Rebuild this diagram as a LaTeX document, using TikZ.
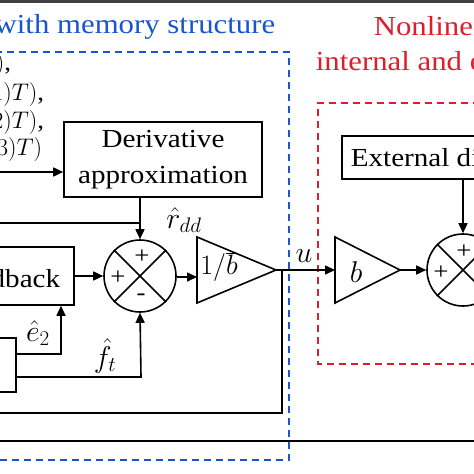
\RequirePackage{fix-cm}
\documentclass[tikz,border=0pt]{standalone}
\usepackage{fontspec}
\setmainfont{Liberation Serif}[FakeStretch=1.12]
\usetikzlibrary{arrows.meta}
\definecolor{myblue}{RGB}{25,85,205}
\definecolor{myred}{RGB}{220,30,45}
\begin{document}
\begin{tikzpicture}[x=1pt,y=-1pt,line width=1.6pt,
  arr/.style={-{Triangle[length=10pt,width=9pt]}},
  txt/.style={font=\fontsize{26}{36}\selectfont, inner sep=0pt},
  mth/.style={font=\fontsize{30}{36}\selectfont, inner sep=0pt},
  ttl/.style={font=\fontsize{27.5}{36}\selectfont, inner sep=0pt},
  sml/.style={font=\fontsize{24}{26}\selectfont, inner sep=0pt},
  sgn/.style={font=\fontsize{24}{26}\selectfont, inner sep=0pt},
  blk/.style={draw, line width=1.6pt, inner sep=0pt},
  sumc/.style={draw, circle, line width=1.6pt, minimum size=72pt, inner sep=0pt},
  bdash/.style={myblue, line width=1.5pt, dash pattern=on 7pt off 5pt},
  rdash/.style={myred, line width=1.5pt, dash pattern=on 7pt off 5pt}]
\useasboundingbox (0,0) rectangle (474,474);
\fill[white] (0,0) rectangle (474,474);
\fill[black!75] (0,0) rectangle (474,2.5);

% group titles
\node[ttl, text=myblue, anchor=base east] (btitle) at (276,33) {Controller with memory structure};
\node[ttl, text=myred, anchor=base west] (rtitle1) at (373,35) {Nonlinear system with};
\node[ttl, text=myred, anchor=base west] (rtitle2) at (315,70) {internal and external disturbances};

% dashed frames
\draw[bdash] (-5,52) -- (289,52) -- (289,460) -- (-5,460);
\draw[rdash] (480,103) -- (318,103) -- (318,364) -- (480,364);

% input samples
\node[sml, anchor=base east] (in1) at (12,70) {$r(kT)$,};
\node[sml, anchor=base east] (in2) at (45,100) {$r((k{-}1)T)$,};
\node[sml, anchor=base east] (in3) at (45,128) {$r((k{-}2)T)$,};
\node[sml, anchor=base east] (in4) at (43,155) {$r((k{-}3)T)$};
\coordinate (inL) at (-5,172);

% blocks
\node[blk, txt, minimum width=198pt, minimum height=75pt, align=center] (der) at (163,159.5) {Derivative\\approximation};
\node[blk, minimum width=120pt, minimum height=58pt] (fb) at (14,276) {};
\node[txt, anchor=base east] (fbt) at (61,287) {Feedback};
\node[blk, minimum width=60pt, minimum height=54pt] (obs) at (-14,365) {};
\node[blk, minimum width=160pt, minimum height=43pt] (ext) at (422,157.5) {};
\node[txt, anchor=base west] (extt) at (350,166) {External disturbance};

\node[sumc] (s1) at (140,276) {};
\draw (s1.45) -- (s1.225) (s1.135) -- (s1.315);
\node[sgn] (s1p1) at (142,257) {+};
\node[sgn] (s1p2) at (118,278) {+};
\node[sgn] (s1m) at (141,297) {-};

\node[sumc] (s2) at (463,270) {};
\draw (s2.45) -- (s2.225) (s2.135) -- (s2.315);
\node[sgn] (s2p1) at (464,252) {+};
\node[sgn] (s2p2) at (441,273) {+};

% gains
\coordinate (t1a) at (197,237);
\coordinate (t1b) at (197,303);
\coordinate (t1o) at (276,270);
\draw[line join=miter] (t1a) -- (t1o) -- (t1b) -- cycle;
\node[font=\fontsize{28}{32}\selectfont, inner sep=0pt] (t1l) at (219,267) {$1/\overline{b}$};
\coordinate (t1i) at (197,277);

\coordinate (t2a) at (335,237);
\coordinate (t2b) at (335,303);
\coordinate (t2o) at (400,270);
\draw[line join=miter] (t2a) -- (t2o) -- (t2b) -- cycle;
\node[mth] (t2l) at (356,272) {$b$};
\coordinate (t2i) at (335,270);

% connectors
\draw[arr] (inL) -- (inL -| der.west);
\draw[arr] (der.south -| s1) -- (s1.north);
\coordinate (rl) at (-5,223);
\draw (rl) -- (rl -| s1);
\node[mth] (rdd) at (184,220) {$\hat{r}_{dd}$};
\draw[arr] (fb.east |- s1) -- (s1.west);
\coordinate (e2a) at (16,354);
\coordinate (e2b) at (61,354);
\draw[arr] (e2a) -- (e2b) -- (e2b |- fb.south);
\node[mth] (e2l) at (38,333) {$\hat{e}_2$};
\coordinate (fta) at (16,377);
\coordinate (ftb) at (141,377);
\draw[arr] (fta) -- (ftb) -- (s1.south);
\node[mth] (ftl) at (105,356) {$\hat{f}_t$};
\draw[arr] (s1.east |- t1i) -- (t1i);
\draw[arr] (t1o) -- (t2i);
\node[mth] (ul) at (304,256) {$u$};
\coordinate (fbk) at (282,270);
\coordinate (fbk2) at (282,413);
\draw (fbk) -- (fbk2) -- (-5,413);
\draw[arr] (t2o) -- (s2.west);
\draw[arr] (ext.south -| s2) -- (s2.north);
\coordinate (hl) at (-5,441);
\coordinate (hr) at (480,441);
\draw (hl) -- (hr);
\end{tikzpicture}
\end{document}
